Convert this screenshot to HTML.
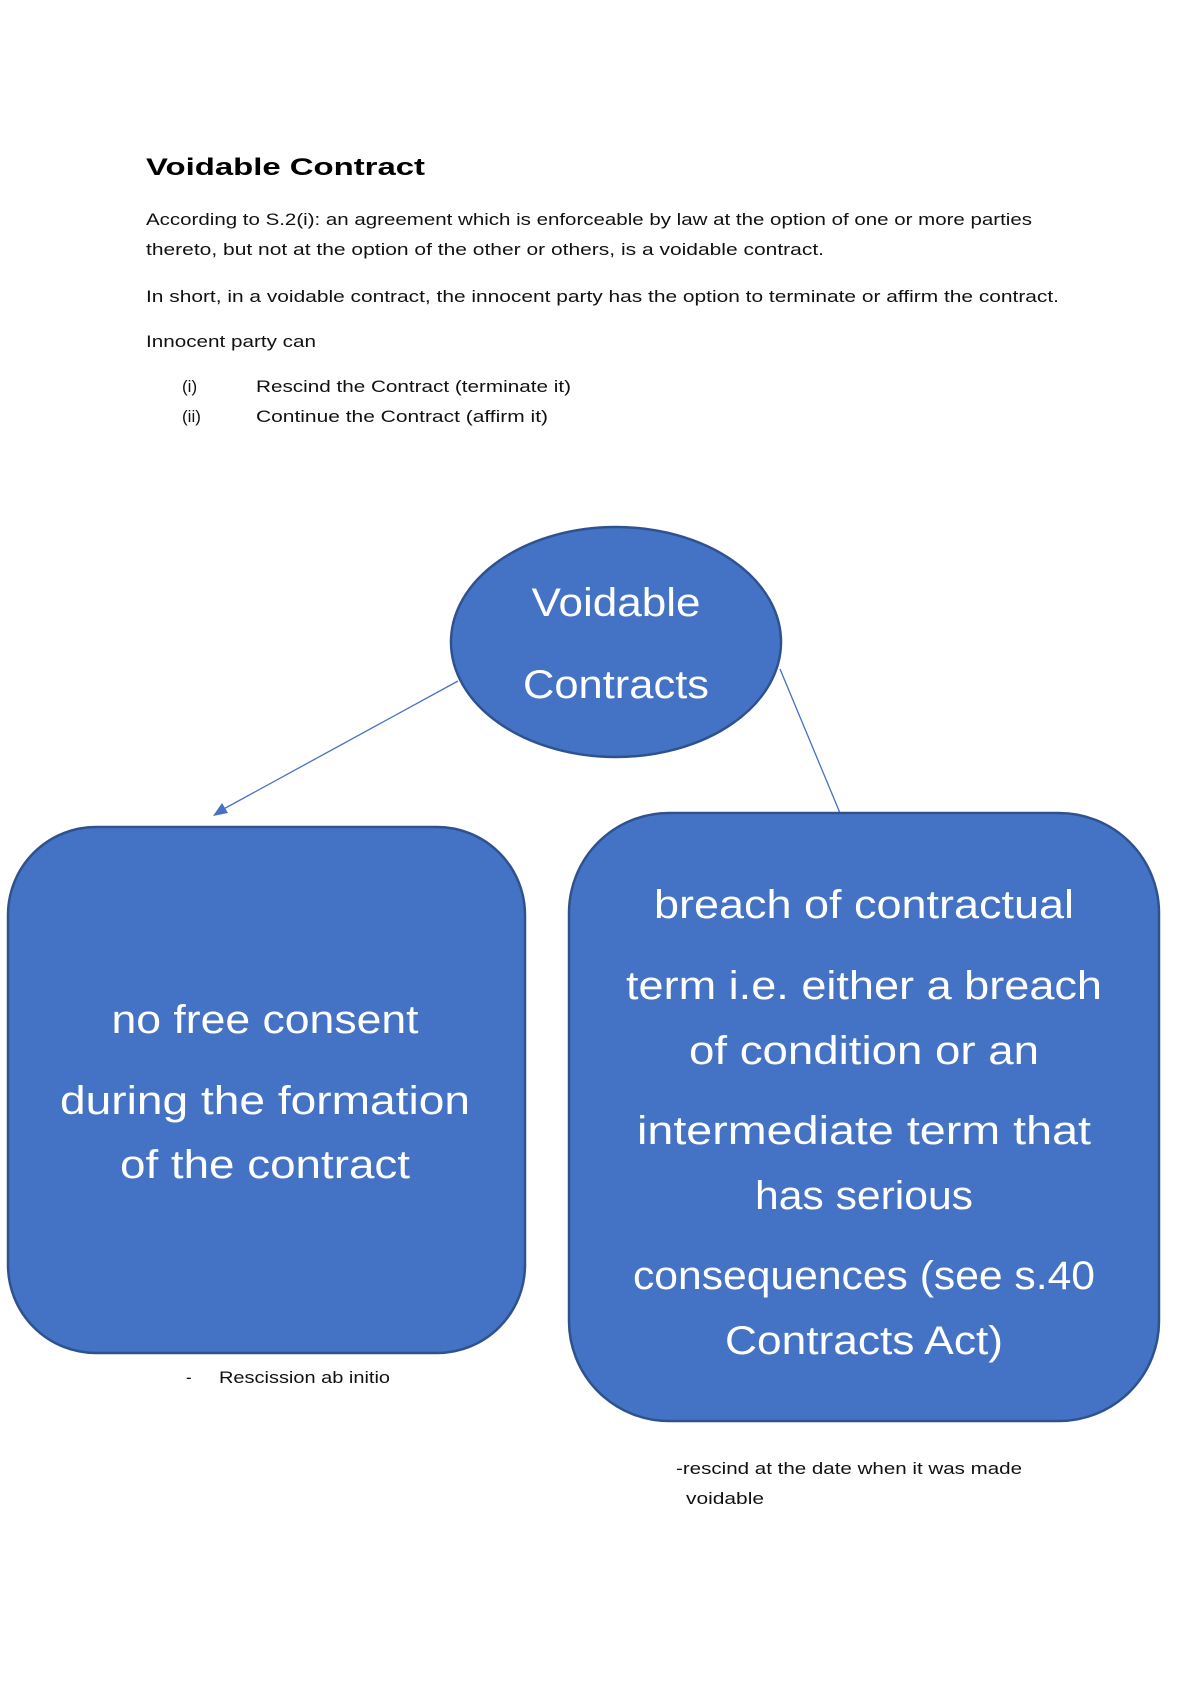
<!DOCTYPE html>
<html><head><meta charset="utf-8"><style>
html,body{margin:0;padding:0;background:#fff;width:1200px;height:1698px;overflow:hidden}
svg{display:block}
.b{font-family:"Liberation Sans",sans-serif;font-size:17px;fill:#111}
.w{font-family:"Liberation Sans",sans-serif;font-size:40px;fill:#fff}
</style></head><body>
<svg width="1200" height="1698" viewBox="0 0 1200 1698" xmlns="http://www.w3.org/2000/svg">
<text x="146" y="175" font-family="Liberation Sans,sans-serif" font-weight="bold" font-size="24" fill="#000" textLength="279" lengthAdjust="spacingAndGlyphs">Voidable Contract</text>
<text class="b" x="146" y="225" textLength="886" lengthAdjust="spacingAndGlyphs">According to S.2(i): an agreement which is enforceable by law at the option of one or more parties</text>
<text class="b" x="146" y="255" textLength="678" lengthAdjust="spacingAndGlyphs">thereto, but not at the option of the other or others, is a voidable contract.</text>
<text class="b" x="146" y="302" textLength="913" lengthAdjust="spacingAndGlyphs">In short, in a voidable contract, the innocent party has the option to terminate or affirm the contract.</text>
<text class="b" x="146" y="347" textLength="170" lengthAdjust="spacingAndGlyphs">Innocent party can</text>
<text class="b" x="182" y="392">(i)</text>
<text class="b" x="256" y="392" textLength="315" lengthAdjust="spacingAndGlyphs">Rescind the Contract (terminate it)</text>
<text class="b" x="182" y="422">(ii)</text>
<text class="b" x="256" y="422" textLength="292" lengthAdjust="spacingAndGlyphs">Continue the Contract (affirm it)</text>

<line x1="458" y1="681" x2="220" y2="811" stroke="#4472C4" stroke-width="1.3"/>
<polygon points="213,816 222,803 228,813" fill="#4472C4"/>
<line x1="780" y1="669" x2="840" y2="813" stroke="#4472C4" stroke-width="1.3"/>

<ellipse cx="616" cy="642" rx="165" ry="115" fill="#4472C4" stroke="#2F528F" stroke-width="2.5"/>
<text class="w" x="616" y="603" text-anchor="middle" dominant-baseline="central" textLength="169" lengthAdjust="spacingAndGlyphs">Voidable</text>
<text class="w" x="616" y="685" text-anchor="middle" dominant-baseline="central" textLength="186" lengthAdjust="spacingAndGlyphs">Contracts</text>

<rect x="8" y="827" width="517" height="526" rx="88" ry="88" fill="#4472C4" stroke="#2F528F" stroke-width="2.5"/>
<text class="w" x="265" y="1020" text-anchor="middle" dominant-baseline="central" textLength="307" lengthAdjust="spacingAndGlyphs">no free consent</text>
<text class="w" x="265" y="1101" text-anchor="middle" dominant-baseline="central" textLength="410" lengthAdjust="spacingAndGlyphs">during the formation</text>
<text class="w" x="265" y="1165" text-anchor="middle" dominant-baseline="central" textLength="290" lengthAdjust="spacingAndGlyphs">of the contract</text>

<rect x="569" y="813" width="590" height="608" rx="100" ry="100" fill="#4472C4" stroke="#2F528F" stroke-width="2.5"/>
<text class="w" x="864" y="905" text-anchor="middle" dominant-baseline="central" textLength="420" lengthAdjust="spacingAndGlyphs">breach of contractual</text>
<text class="w" x="864" y="986" text-anchor="middle" dominant-baseline="central" textLength="476" lengthAdjust="spacingAndGlyphs">term i.e. either a breach</text>
<text class="w" x="864" y="1051" text-anchor="middle" dominant-baseline="central" textLength="350" lengthAdjust="spacingAndGlyphs">of condition or an</text>
<text class="w" x="864" y="1131" text-anchor="middle" dominant-baseline="central" textLength="454" lengthAdjust="spacingAndGlyphs">intermediate term that</text>
<text class="w" x="864" y="1196" text-anchor="middle" dominant-baseline="central" textLength="218" lengthAdjust="spacingAndGlyphs">has serious</text>
<text class="w" x="864" y="1276" text-anchor="middle" dominant-baseline="central" textLength="462" lengthAdjust="spacingAndGlyphs">consequences (see s.40</text>
<text class="w" x="864" y="1341" text-anchor="middle" dominant-baseline="central" textLength="278" lengthAdjust="spacingAndGlyphs">Contracts Act)</text>

<text class="b" x="186" y="1383">-</text>
<text class="b" x="219" y="1383" textLength="171" lengthAdjust="spacingAndGlyphs">Rescission ab initio</text>
<text class="b" x="676" y="1474" textLength="346" lengthAdjust="spacingAndGlyphs">-rescind at the date when it was made</text>
<text class="b" x="686" y="1504" textLength="78" lengthAdjust="spacingAndGlyphs">voidable</text>
</svg>
</body></html>
